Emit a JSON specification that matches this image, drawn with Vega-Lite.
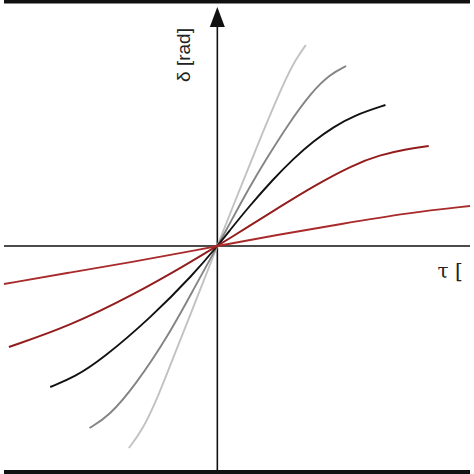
{
  "$schema": "https://vega.github.io/schema/vega-lite/v6.json",
  "autosize": {"type": "fit", "contains": "padding"},
  "width": 474,
  "height": 474,
  "padding": 0,
  "background": "white",
  "config": {"view": {"stroke": null}},
  "layer": [
    {
      "data": {"values": [{"band": "top", "y0": 242.5, "y1": 246}, {"band": "bottom", "y0": -228, "y1": -224}]},
      "mark": {"type": "rect", "color": "#111111"},
      "encoding": {
        "x": {"datum": -217, "type": "quantitative", "scale": {"domain": [-217, 257], "nice": false, "zero": false}, "axis": null},
        "x2": {"datum": 257},
        "y": {"field": "y0", "type": "quantitative", "scale": {"domain": [-228, 246], "nice": false, "zero": false}, "axis": null},
        "y2": {"field": "y1"}
      }
    },
    {
      "data": {"values": [{}]},
      "mark": {"type": "rule", "color": "#111111", "strokeWidth": 1.6},
      "encoding": {
        "x": {"datum": -217, "type": "quantitative", "scale": {"domain": [-217, 257], "nice": false, "zero": false}, "axis": null},
        "x2": {"datum": 257},
        "y": {"datum": 0, "type": "quantitative", "scale": {"domain": [-228, 246], "nice": false, "zero": false}, "axis": null}
      }
    },
    {
      "data": {"values": [{}]},
      "mark": {"type": "rule", "color": "#111111", "strokeWidth": 1.6},
      "encoding": {
        "x": {"datum": 0, "type": "quantitative", "scale": {"domain": [-217, 257], "nice": false, "zero": false}, "axis": null},
        "y": {"datum": -224, "type": "quantitative", "scale": {"domain": [-228, 246], "nice": false, "zero": false}, "axis": null},
        "y2": {"datum": 226}
      }
    },
    {
      "data": {"values": [{}]},
      "mark": {"type": "point", "shape": "M0,-1L-0.75,1L0.75,1Z", "filled": true, "color": "#111111", "opacity": 1, "size": 400},
      "encoding": {
        "x": {"datum": 0, "type": "quantitative", "scale": {"domain": [-217, 257], "nice": false, "zero": false}, "axis": null},
        "y": {"datum": 229, "type": "quantitative", "scale": {"domain": [-228, 246], "nice": false, "zero": false}, "axis": null}
      }
    },
    {
      "data": {
        "values": [
          {"curve": "a", "x": -90, "y": -202},
          {"curve": "a", "x": -76, "y": -184},
          {"curve": "a", "x": -60, "y": -150},
          {"curve": "a", "x": -45, "y": -112},
          {"curve": "a", "x": -30, "y": -75},
          {"curve": "a", "x": -16, "y": -40},
          {"curve": "a", "x": 0, "y": 0},
          {"curve": "a", "x": 16, "y": 40},
          {"curve": "a", "x": 30, "y": 74},
          {"curve": "a", "x": 43, "y": 106},
          {"curve": "a", "x": 57, "y": 139},
          {"curve": "a", "x": 70, "y": 168},
          {"curve": "a", "x": 80, "y": 187},
          {"curve": "a", "x": 90, "y": 201},

          {"curve": "b", "x": -130, "y": -182},
          {"curve": "b", "x": -110, "y": -170},
          {"curve": "b", "x": -84, "y": -140},
          {"curve": "b", "x": -50, "y": -90},
          {"curve": "b", "x": -24, "y": -43},
          {"curve": "b", "x": 0, "y": 0},
          {"curve": "b", "x": 13, "y": 23},
          {"curve": "b", "x": 31, "y": 56},
          {"curve": "b", "x": 51, "y": 89},
          {"curve": "b", "x": 73, "y": 123},
          {"curve": "b", "x": 95, "y": 153},
          {"curve": "b", "x": 115, "y": 172},
          {"curve": "b", "x": 131, "y": 180},

          {"curve": "c", "x": -170, "y": -141},
          {"curve": "c", "x": -145, "y": -131},
          {"curve": "c", "x": -117, "y": -113},
          {"curve": "c", "x": -67, "y": -71},
          {"curve": "c", "x": -24, "y": -28},
          {"curve": "c", "x": 0, "y": 0},
          {"curve": "c", "x": 13, "y": 16},
          {"curve": "c", "x": 31, "y": 38},
          {"curve": "c", "x": 56, "y": 66},
          {"curve": "c", "x": 78, "y": 88},
          {"curve": "c", "x": 98, "y": 105},
          {"curve": "c", "x": 118, "y": 119},
          {"curve": "c", "x": 140, "y": 131},
          {"curve": "c", "x": 171, "y": 141},

          {"curve": "d", "x": -212, "y": -101},
          {"curve": "d", "x": -150, "y": -80},
          {"curve": "d", "x": -84, "y": -48},
          {"curve": "d", "x": -34, "y": -20},
          {"curve": "d", "x": 0, "y": 0},
          {"curve": "d", "x": 31, "y": 19},
          {"curve": "d", "x": 65, "y": 40},
          {"curve": "d", "x": 98, "y": 60},
          {"curve": "d", "x": 138, "y": 81},
          {"curve": "d", "x": 165, "y": 91},
          {"curve": "d", "x": 193, "y": 97},
          {"curve": "d", "x": 215, "y": 100},

          {"curve": "e", "x": -217, "y": -38},
          {"curve": "e", "x": -150, "y": -26.5},
          {"curve": "e", "x": -84, "y": -15.5},
          {"curve": "e", "x": -34, "y": -6.5},
          {"curve": "e", "x": 0, "y": 0},
          {"curve": "e", "x": 60, "y": 11},
          {"curve": "e", "x": 126, "y": 22},
          {"curve": "e", "x": 193, "y": 33},
          {"curve": "e", "x": 257, "y": 40}
        ]
      },
      "mark": {"type": "line", "strokeWidth": 1.9, "interpolate": "basis"},
      "encoding": {
        "x": {"field": "x", "type": "quantitative", "scale": {"domain": [-217, 257], "nice": false, "zero": false}, "axis": null},
        "y": {"field": "y", "type": "quantitative", "scale": {"domain": [-228, 246], "nice": false, "zero": false}, "axis": null},
        "color": {
          "field": "curve",
          "type": "nominal",
          "scale": {"domain": ["a", "b", "c", "d", "e"], "range": ["#c2c2c2", "#848484", "#121212", "#931c1c", "#a92a2a"]},
          "legend": null
        }
      }
    },
    {
      "data": {"values": [{}]},
      "mark": {"type": "text", "text": "δ [rad]", "angle": 270, "font": "Liberation Sans", "fontSize": 19, "color": "#222222", "align": "center", "baseline": "middle"},
      "encoding": {
        "x": {"datum": -34, "type": "quantitative", "scale": {"domain": [-217, 257], "nice": false, "zero": false}, "axis": null},
        "y": {"datum": 191, "type": "quantitative", "scale": {"domain": [-228, 246], "nice": false, "zero": false}, "axis": null}
      }
    },
    {
      "data": {"values": [{}]},
      "mark": {"type": "text", "text": "τ [", "font": "DejaVu Serif", "fontSize": 20, "color": "#222222", "align": "left", "baseline": "middle"},
      "encoding": {
        "x": {"datum": 224, "type": "quantitative", "scale": {"domain": [-217, 257], "nice": false, "zero": false}, "axis": null},
        "y": {"datum": -26, "type": "quantitative", "scale": {"domain": [-228, 246], "nice": false, "zero": false}, "axis": null}
      }
    }
  ]
}
